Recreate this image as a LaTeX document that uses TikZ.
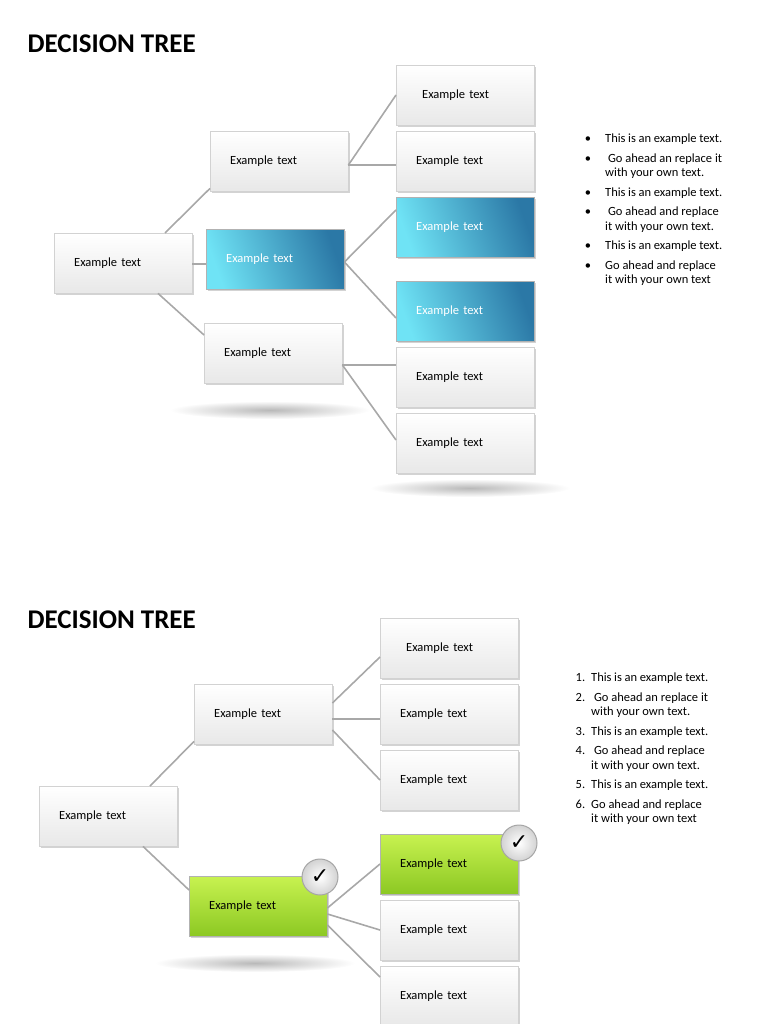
\documentclass[tikz,border=0pt]{standalone}
\usepackage{fontspec}
\setmainfont{Carlito}
\newfontfamily\djv{DejaVu Sans}
\usetikzlibrary{calc,shadows}
\definecolor{lineg}{HTML}{A8A8A8}
\definecolor{bluel}{HTML}{6FE3F5}
\definecolor{blued}{HTML}{2B78A6}
\tikzset{
 box/.style={draw=gray!35, top color=white, bottom color=gray!18, minimum height=60pt, text width=98pt, inner xsep=20pt, align=left, anchor=north west, font=\fontsize{12.5}{14}\selectfont, drop shadow={shadow xshift=1.5pt, shadow yshift=-1.5pt, opacity=0.35}},
 blue/.style={box, draw=gray!60, shading=axis, left color=bluel, right color=blued, shading angle=110, text=white},
 green/.style={box, draw=gray!60, top color={rgb,255:red,200;green,242;blue,80}, bottom color={rgb,255:red,140;green,200;blue,35}, text=black},
 con/.style={draw=lineg, line width=1.6pt},
 title/.style={anchor=west, font=\fontsize{27}{30}\selectfont\bfseries},
 lst/.style={anchor=north west, align=left, font=\fontsize{12.5}{14.5}\selectfont, inner sep=0pt},
 chk/.style={circle, draw=gray!70, line width=1pt, inner color=white, outer color=gray!35, minimum size=36pt, font=\djv\bfseries\fontsize{22}{22}\selectfont},
}
\begin{document}
\begin{tikzpicture}[x=1pt,y=-1pt]
\useasboundingbox (0,0) rectangle (768,1024);
% ---------- top ----------
\node[title] (t1) at (24,44) {DECISION TREE};
\shade[inner color=gray!55, outer color=white] (270,410) ellipse (100 and 9);
\shade[inner color=gray!55, outer color=white] (470,488) ellipse (100 and 9);
\node[box] (r1) at (54,233) {Example text};
\node[box] (a1) at (210,131) {Example text};
\node[blue] (b1) at (206,229) {Example text};
\node[box] (c1) at (204,323) {Example text};
\node[box] (x1) at (396,65) {\hspace*{6pt}Example text};
\node[box] (x2) at (396,131) {Example text};
\node[blue] (x3) at (396,197) {Example text};
\node[blue] (x4) at (396,281) {Example text};
\node[box] (x5) at (396,347) {Example text};
\node[box] (x6) at (396,413) {Example text};
\draw[con] ($(r1.north west)+(111,0)$) -- ($(a1.south west)+(0,-3)$);
\draw[con] ($(r1.north east)+(0,31)$) -- ($(b1.north west)+(0,35)$);
\draw[con] ($(r1.south west)+(104,0)$) -- ($(c1.north west)+(0,12)$);
\draw[con] ($(a1.north east)+(0,34)$) -- ($(x1.north west)+(0,30)$);
\draw[con] ($(a1.north east)+(0,34)$) -- ($(x2.north west)+(0,34)$);
\draw[con] ($(b1.north east)+(0,33)$) -- ($(x3.north west)+(0,13)$);
\draw[con] ($(b1.north east)+(0,33)$) -- ($(x4.north west)+(0,37)$);
\draw[con] ($(c1.north east)+(0,42)$) -- ($(x5.north west)+(0,18)$);
\draw[con] ($(c1.north east)+(0,42)$) -- ($(x6.north west)+(0,27)$);
\node[lst] (l1) at (580,134) {%
\begin{minipage}{142pt}\raggedright
\begin{itemize}\setlength{\itemsep}{1pt}\setlength{\parsep}{0pt}\setlength{\topsep}{0pt}\setlength{\leftmargin}{22pt}\setlength{\labelsep}{14pt}\setlength{\rightmargin}{0pt}
\item This is an example text.
\item \ Go ahead an replace it with your own text.
\item This is an example text.
\item \ Go ahead and replace it with your own text.
\item This is an example text.
\item Go ahead and replace it with your own text
\end{itemize}\end{minipage}};
% ---------- bottom ----------
\node[title] (t2) at (24,620) {DECISION TREE};
\shade[inner color=gray!55, outer color=white] (255,963) ellipse (100 and 9);
\node[box] (r2) at (39,786) {Example text};
\node[box] (a2) at (194,684) {Example text};
\node[green] (b2) at (189,876) {Example text};
\node[box] (y1) at (380,618) {\hspace*{6pt}Example text};
\node[box] (y2) at (380,684) {Example text};
\node[box] (y3) at (380,750) {Example text};
\node[green] (y4) at (380,834) {Example text};
\node[box] (y5) at (380,900) {Example text};
\node[box] (y6) at (380,966) {Example text};
\draw[con] ($(r2.north west)+(111,0)$) -- ($(a2.south west)+(0,-3)$);
\draw[con] ($(r2.south west)+(104,0)$) -- ($(b2.north west)+(0,14)$);
\draw[con] ($(a2.north east)+(0,19)$) -- ($(y1.north west)+(0,39)$);
\draw[con] ($(a2.north east)+(0,35)$) -- ($(y2.north west)+(0,35)$);
\draw[con] ($(a2.north east)+(0,46)$) -- ($(y3.north west)+(0,30)$);
\draw[con] ($(b2.north east)+(0,32)$) -- ($(y4.north west)+(0,30)$);
\draw[con] ($(b2.north east)+(0,38)$) -- ($(y5.north west)+(0,30)$);
\draw[con] ($(b2.north east)+(0,49)$) -- ($(y6.north west)+(0,11)$);
\node[chk] (k1) at (320,877) {✓};
\node[chk] (k2) at (519,843) {✓};
\node[lst] (l2) at (566,673) {%
\begin{minipage}{142pt}\raggedright
\begin{enumerate}\setlength{\itemsep}{1pt}\setlength{\parsep}{0pt}\setlength{\topsep}{0pt}\setlength{\leftmargin}{21pt}\setlength{\labelsep}{6pt}\setlength{\rightmargin}{0pt}
\item This is an example text.
\item \ Go ahead an replace it with your own text.
\item This is an example text.
\item \ Go ahead and replace it with your own text.
\item This is an example text.
\item Go ahead and replace it with your own text
\end{enumerate}\end{minipage}};
\end{tikzpicture}
\end{document}
